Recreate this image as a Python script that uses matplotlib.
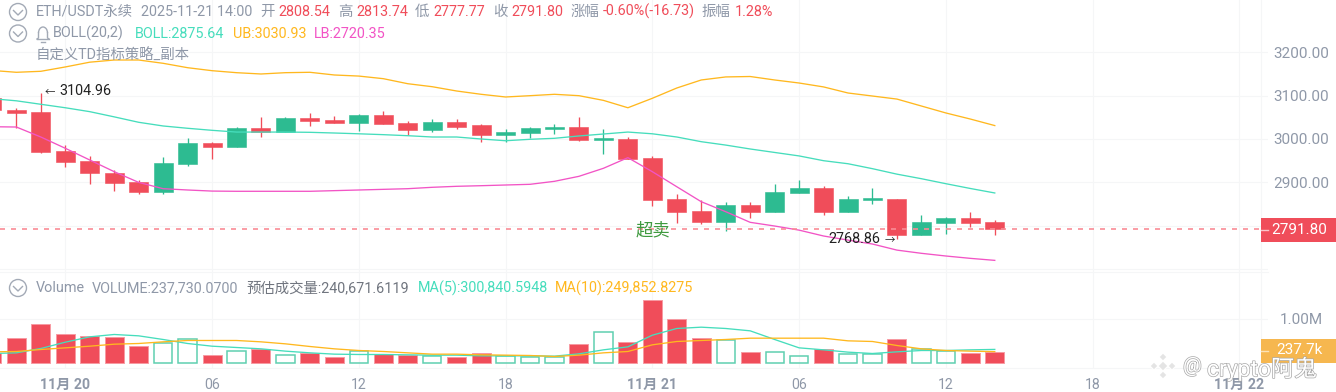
import matplotlib
matplotlib.use('Agg')
import matplotlib.pyplot as plt
import matplotlib.patheffects as pe
from matplotlib.patches import Circle, Rectangle, Arc, Polygon

plt.rcParams['font.family'] = ['Roboto', 'Noto Sans CJK SC', 'DejaVu Sans']

# hours since 11-20 00:00, first candle is partly cut off on the left
hours = list(range(-3, 39))
opens = [3093.8, 3067, 3061.5, 2972, 2950, 2922, 2900, 2878.6, 2942, 2991.5, 2981.6, 3024.6, 3017, 3048,
         3044.5, 3037, 3056, 3037, 3020.7, 3039, 3031.5, 3010, 3014.6, 3023, 3027.6, 2998.4, 3000, 2955.5,
         2861.7, 2833, 2808.7, 2847, 2831, 2876, 2886, 2831, 2859.4, 2861.7, 2778, 2806.5, 2817, 2808.54]
highs = [3095, 3071, 3104.96, 2986, 2961.6, 2928.6, 2905.5, 2958, 3001.6, 2992, 3028, 3050, 3051, 3059,
         3053.7, 3057, 3065, 3042, 3045, 3046, 3034.6, 3022, 3028, 3034.6, 3050, 3023, 3004, 2961.6,
         2872.6, 2859.4, 2854.8, 2854.8, 2896, 2905.5, 2891, 2869, 2886, 2861.7, 2825, 2821, 2832, 2813.74]
lows = [3065, 3025, 2968, 2936, 2896, 2880, 2873, 2873, 2938.5, 2953, 2981.6, 3005, 3017, 3030.6,
        3037, 3018, 3034, 3009, 3016, 3023, 2992, 2994, 3001.6, 3011.5, 2996, 2964.7, 2954, 2846,
        2805.7, 2804, 2788, 2818, 2831, 2876, 2825.6, 2831, 2851, 2768.86, 2778, 2781, 2798, 2777.77]
closes = [3067, 3059, 2970.8, 2948, 2921, 2898, 2878.6, 2944, 2991.5, 2981.6, 3024.6, 3017, 3047.7, 3042,
          3037, 3055, 3034, 3020.7, 3039, 3028, 3010, 3017, 3025, 3027.6, 2997.7, 3003, 2954, 2859.4,
          2831, 2808.7, 2847, 2831, 2878, 2886, 2831, 2861.7, 2864, 2778, 2808.7, 2817, 2806.5, 2791.80]

boll_mid = [3092.9, 3088, 3080, 3072, 3063, 3051, 3038.5, 3030, 3024.7, 3020, 3016, 3016, 3016, 3015.4,
            3013.8, 3012, 3010, 3007.6, 3004.6, 3004.6, 3000, 2996, 2999.3, 3001.6, 3007, 3011.5, 3016, 3012,
            3004.6, 2993.8, 2986, 2977, 2969, 2961, 2950, 2943, 2931.6, 2919, 2908.5, 2897, 2886, 2875.64]
boll_ub = [3158, 3153.7, 3156, 3166, 3177, 3182, 3182, 3174.4, 3164.3, 3157.4, 3152.8, 3149.8, 3152.8, 3153.7,
           3147.5, 3145, 3139, 3127.4, 3120.5, 3110.6, 3103, 3096.8, 3099.8, 3103, 3099.8, 3089, 3072, 3093.8,
           3117.5, 3136, 3143, 3144, 3136, 3129, 3120, 3106, 3099, 3092, 3076, 3060, 3046, 3030.93]
boll_lb = [3028.3, 3027.6, 3004.6, 2978.6, 2951.6, 2924.7, 2900, 2885.5, 2882.5, 2880, 2879.5, 2879.5, 2879.5, 2879.5,
           2881, 2882.5, 2884, 2885.5, 2888.7, 2891, 2892.4, 2894, 2895.6, 2902.5, 2914, 2932.5, 2957, 2924.7,
           2890, 2855.5, 2832.5, 2808, 2799.5, 2790, 2776.5, 2767, 2758, 2744, 2736.6, 2730.4, 2725, 2720.35]

# volume in millions
volumes = [0.22, 0.567, 0.874, 0.659, 0.62, 0.575, 0.375, 0.452, 0.536, 0.176, 0.253, 0.3, 0.169, 0.207,
           0.123, 0.253, 0.2, 0.169, 0.146, 0.123, 0.207, 0.138, 0.123, 0.123, 0.429, 0.705, 0.46, 1.433,
           1.011, 0.567, 0.506, 0.238, 0.23, 0.146, 0.3, 0.2, 0.184, 0.544, 0.3, 0.26, 0.207, 0.2377]
vol_ma5 = [0.207, 0.222, 0.322, 0.467, 0.59, 0.644, 0.613, 0.529, 0.437, 0.375, 0.345, 0.314, 0.261, 0.222,
           0.192, 0.184, 0.184, 0.176, 0.169, 0.169, 0.153, 0.153, 0.153, 0.146, 0.199, 0.291, 0.36, 0.628,
           0.782, 0.812, 0.782, 0.728, 0.529, 0.337, 0.291, 0.238, 0.207, 0.245, 0.276, 0.276, 0.291, 0.3008]
vol_ma10 = [0.245, 0.253, 0.299, 0.337, 0.375, 0.421, 0.437, 0.475, 0.506, 0.506, 0.506, 0.475, 0.429, 0.368,
            0.314, 0.276, 0.253, 0.222, 0.192, 0.192, 0.176, 0.169, 0.161, 0.138, 0.169, 0.222, 0.253, 0.406,
            0.483, 0.506, 0.529, 0.559, 0.559, 0.559, 0.559, 0.498, 0.483, 0.391, 0.314, 0.276, 0.261, 0.2499]

price_ticks = [2700, 2800, 2900, 3000, 3100, 3200]
price_labels = ['', '', '2900.00', '3000.00', '3100.00', '3200.00']
time_ticks = [0, 6, 12, 18, 24, 30, 36, 42, 48]
time_labels = ['11月 20', '06', '12', '18', '11月 21', '06', '12', '18', '11月 22']
last_price = 2791.80

RED = '#F04D5A'
GREEN = '#2DBB91'
TEAL = '#46DDBC'
ORANGE = '#FFB81F'
PINK = '#F254C5'
GREY = '#8F98A8'
GRID = '#F5F6F7'
W, H = 1336, 392

fig = plt.figure(figsize=(W / 100, H / 100), dpi=100, facecolor='white')


def axes_px(left, top, right, bottom):
    return fig.add_axes([left / W, 1 - bottom / H, (right - left) / W, (bottom - top) / H])


# shared x scale: 24.46 px per hour, hour 0 sits at x=65.3
xlim = ((0 - 65.3) / 24.46, (1268 - 65.3) / 24.46)
body_w = 19 / 24.46

ax = axes_px(0, 0, 1268, 272)
ax.set_xlim(xlim)
ax.set_ylim(3000 - (272 - 139) / 0.434, 3000 + 139 / 0.434)

for h, o, hi, lo, c in zip(hours, opens, highs, lows, closes):
    col = RED if c < o else GREEN
    ax.plot([h, h], [lo, hi], color=col, lw=0.95, zorder=2, solid_capstyle='butt')
    ax.add_patch(Rectangle((h - body_w / 2, min(o, c)), body_w, abs(o - c), facecolor=col,
                           edgecolor=col, lw=0.4, zorder=3))

ax.plot(hours, boll_ub, color=ORANGE, lw=0.95, zorder=4)
ax.plot(hours, boll_mid, color=TEAL, lw=0.95, zorder=4)
ax.plot(hours, boll_lb, color=PINK, lw=0.95, zorder=4)
ax.axhline(last_price, color='#F98C96', lw=1.2, dashes=(3, 3.6), zorder=5)

ax.set_xticks(time_ticks)
ax.set_yticks(price_ticks)
ax.set_yticklabels(price_labels)
ax.tick_params(axis='x', length=0, labelbottom=False)
ax.yaxis.tick_right()
ax.tick_params(axis='y', length=0, pad=3.6, labelsize=11, labelcolor=GREY)
ax.grid(True, color=GRID, lw=0.8)
ax.set_axisbelow(True)
for s in ax.spines.values():
    s.set_visible(False)

# volume panel
axv = axes_px(0, 272, 1268, 368)
axv.set_xlim(xlim)
axv.set_ylim((362.5 - 368) / 43.5, (362.5 - 272) / 43.5)

for h, o, c, v in zip(hours, opens, closes, volumes):
    if c < o:
        axv.bar(h, v, width=body_w, facecolor=RED, edgecolor='#F79AA2', lw=0.7, zorder=2)
    else:
        axv.bar(h, v, width=body_w * 0.96, facecolor='none', edgecolor='#5FCFB0', lw=1.1, zorder=2)

axv.plot(hours, vol_ma5, color=TEAL, lw=0.95, zorder=3)
axv.plot(hours, vol_ma10, color=ORANGE, lw=0.95, zorder=4)

axv.set_xticks(time_ticks)
axv.set_xticklabels(time_labels)
axv.set_yticks([1.0])
axv.set_yticklabels(['1.00M'])
axv.yaxis.tick_right()
axv.tick_params(axis='y', length=0, pad=8.6, labelsize=11, labelcolor=GREY)
axv.tick_params(axis='x', length=0, pad=7, labelsize=10.2, labelcolor=GREY)
for lab in axv.get_xticklabels():
    if '月' in lab.get_text():
        lab.set_fontweight('bold')
axv.grid(True, color=GRID, lw=0.8)
axv.set_axisbelow(True)
for name, s in axv.spines.items():
    s.set_visible(name in ('top', 'bottom'))
    s.set_color(GRID)

# overlay in pixel coordinates for header text, icons and price tags
ov = fig.add_axes([0, 0, 1, 1], zorder=10)
ov.set_xlim(0, W)
ov.set_ylim(H, 0)
ov.axis('off')
ov.patch.set_alpha(0)

ov.plot([1261, 1261], [0, 368], color=GRID, lw=0.8, zorder=0)


def label(x, y, s, color=GREY, size=10.4, **kw):
    ov.text(x, y, s, color=color, fontsize=size, ha=kw.pop('ha', 'left'), va='center', **kw)


def chevron(x, y):
    ov.add_patch(Circle((x, y), 8.5, facecolor='white', edgecolor='#A3AAB6', lw=1))
    ov.plot([x - 4.5, x, x + 4.5], [y - 1.5, y + 3, y - 1.5], color='#A3AAB6', lw=1)


header = [(36, 'ETH/USDT永续', GREY), (141, '2025-11-21 14:00', GREY), (260, '开', GREY),
          (278, '2808.54', RED), (338, '高', GREY), (356, '2813.74', RED), (415, '低', GREY),
          (433, '2777.77', RED), (493, '收', GREY), (511, '2791.80', RED), (571, '涨幅', GREY),
          (603, '-0.60%(-16.73)', RED), (702, '振幅', GREY), (735, '1.28%', RED)]
for x, s, col in header:
    label(x, 11.5, s, col)

chevron(18, 12)
chevron(18, 33.5)
chevron(18, 288)

# bell icon
ov.add_patch(Arc((43, 33), 9, 12, theta1=180, theta2=360, color='#A3AAB6', lw=1))
ov.plot([37, 38.5, 38.5], [39, 38, 33], color='#A3AAB6', lw=1)
ov.plot([49, 47.5, 47.5], [39, 38, 33], color='#A3AAB6', lw=1)
ov.plot([37, 49], [39, 39], color='#A3AAB6', lw=1)
ov.plot([41, 45], [41.5, 41.5], color='#A3AAB6', lw=1)

label(53, 33.5, 'BOLL(20,2)')
label(135, 33.5, 'BOLL:2875.64', TEAL)
label(233, 33.5, 'UB:3030.93', ORANGE)
label(314, 33.5, 'LB:2720.35', PINK)
label(36, 55.5, '自定义TD指标策略_副本')

label(36, 288, 'Volume')
label(92, 288, 'VOLUME:237,730.0700')
label(246, 288, '预估成交量:240,671.6119', '#70757F')
label(418, 288, 'MA(5):300,840.5948', TEAL)
label(555, 288, 'MA(10):249,852.8275', ORANGE)

label(45, 91, '←', '#222222', 7.5)
label(59, 91, '3104.96', '#222222')
label(828, 239, '2768.86', '#222222')
label(885, 239, '→', '#222222', 7.5)
label(636, 230, '超卖', '#3F9A3F', 12.5)

# last price and last volume tags
ov.add_patch(Rectangle((1261, 217.5), 75, 24, facecolor=RED, edgecolor='none'))
ov.plot([1261, 1268], [229.5, 229.5], color='#FBC4C9', lw=1)
label(1299, 229.5, '2791.80', 'white', 11, ha='center')
ov.add_patch(Rectangle((1261, 339), 75, 24, facecolor='#F6B74F', edgecolor='none'))
ov.plot([1261, 1268], [351, 351], color='#FCE3B8', lw=1)
label(1299, 350, '237.7k', 'white', 11, ha='center')

# watermark
mark = dict(color='white', path_effects=[pe.withStroke(linewidth=1.0, foreground='#A8A8A8')])
label(1183, 366, '@', size=15, **mark)
label(1207, 369, 'crypto阿鬼', size=16.5, **mark)
for dx, dy, r in [(0, -9, 4), (-9, 0, 4), (9, 0, 4), (0, 9, 4), (0, 0, 5)]:
    cx, cy = 1163 + dx, 366 + dy
    ov.add_patch(Polygon([(cx, cy - r), (cx + r, cy), (cx, cy + r), (cx - r, cy)],
                         facecolor='#E4E4E4', edgecolor='white', lw=0.8))

fig.savefig('out.png', dpi=100)
